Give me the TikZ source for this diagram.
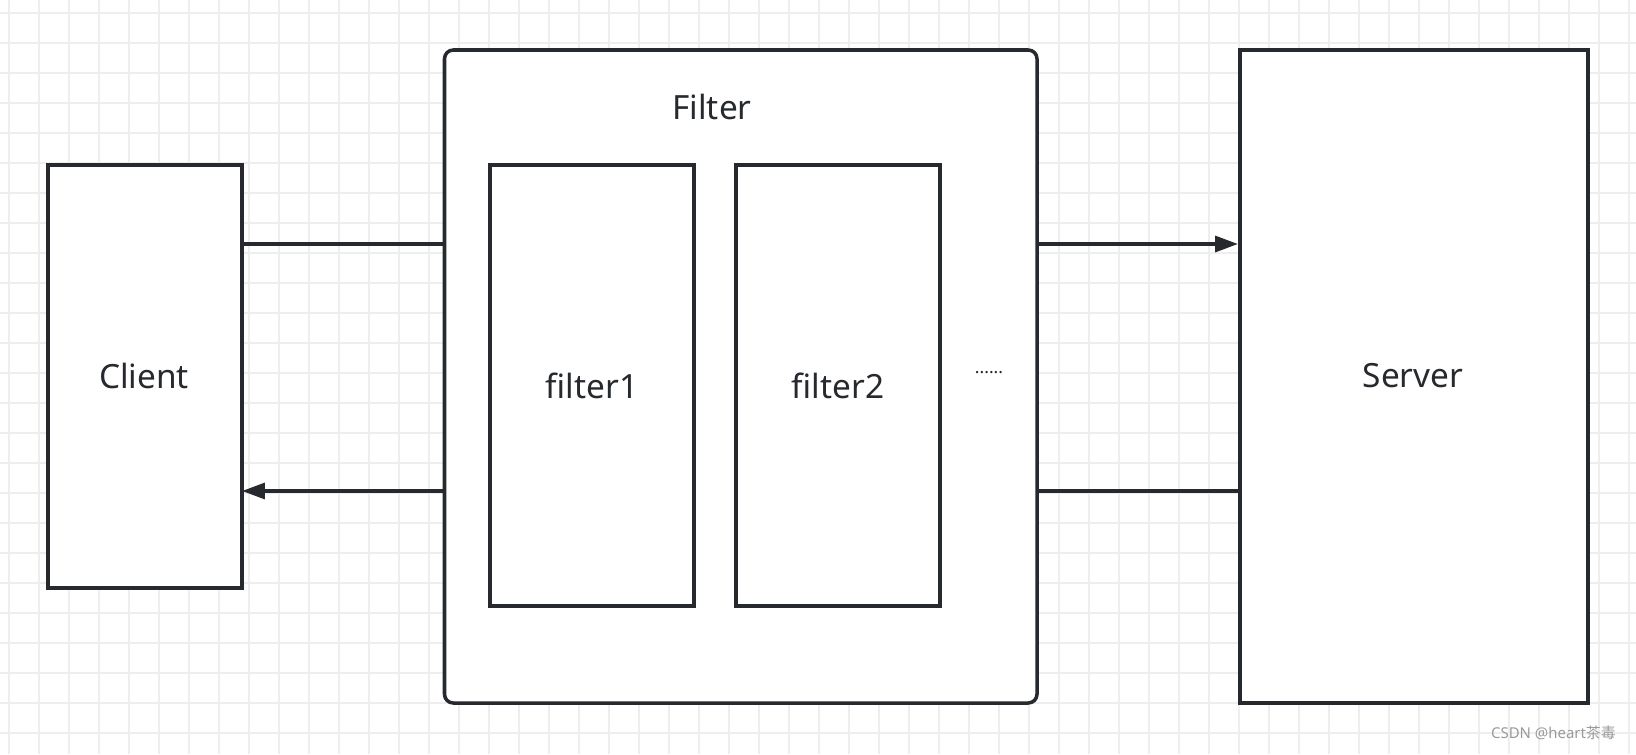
\documentclass[tikz,border=0pt]{standalone}
\usepackage{fontspec}
\setmainfont{Noto Sans}
\newfontfamily\cjk{Noto Sans CJK SC}
\usetikzlibrary{arrows.meta}
\definecolor{ink}{HTML}{262A2E}
\definecolor{gridc}{HTML}{EEEEEE}
\begin{document}
\begin{tikzpicture}[x=0.02cm,y=-0.02cm,
  box/.style={draw=ink,line width=2pt,fill=white},
  lbl/.style={font=\fontsize{19}{22}\selectfont,text=ink},
  conn/.style={draw=ink,line width=2pt},
  arr/.style={conn,-{Triangle[length=13pt,width=9pt]}}]
\useasboundingbox (0,0) rectangle (1636,754);
\fill[white] (0,0) rectangle (1636,754);
\foreach \x in {9,39,...,1636} \draw[gridc,line width=0.8pt] (\x,0) -- (\x,754);
\foreach \y in {13,43,...,754} \draw[gridc,line width=0.8pt] (0,\y) -- (1636,\y);
\draw[box] (48,165) rectangle (242,588);
\draw[box,rounded corners=5pt] (444.5,50) rectangle (1037,703);
\draw[box] (490,165) rectangle (694,606);
\draw[box] (736,165) rectangle (940,606);
\draw[box] (1240,50) rectangle (1588,703);
\coordinate (cT) at (242,244); \coordinate (cB) at (242,491);
\coordinate (fLT) at (444.5,244); \coordinate (fLB) at (444.5,491);
\coordinate (fRT) at (1037,244); \coordinate (fRB) at (1037,491);
\coordinate (sT) at (1238,244); \coordinate (sB) at (1238,491);
\draw[conn] (cT) -- (fLT);
\draw[arr] (fLB) -- (cB);
\draw[arr] (fRT) -- (sT);
\draw[conn] (sB) -- (fRB);
\node[lbl] (tclient) at (144,376) {Client};
\node[lbl] (tfilter) at (712,107) {Filter};
\node[lbl] (tf1) at (592,386) {filter1};
\node[lbl] (tf2) at (838,386) {filter2};
\node[lbl] (tdots) at (989,373) {\fontsize{10}{10}\selectfont ......};
\node[lbl] (tserver) at (1413,376) {Server};
\node[text=gray!80,font=\fontsize{8.5}{10}\selectfont,anchor=east] (wm) at (1622,733) {CSDN @heart{\cjk 茶毒}};
\end{tikzpicture}
\end{document}
